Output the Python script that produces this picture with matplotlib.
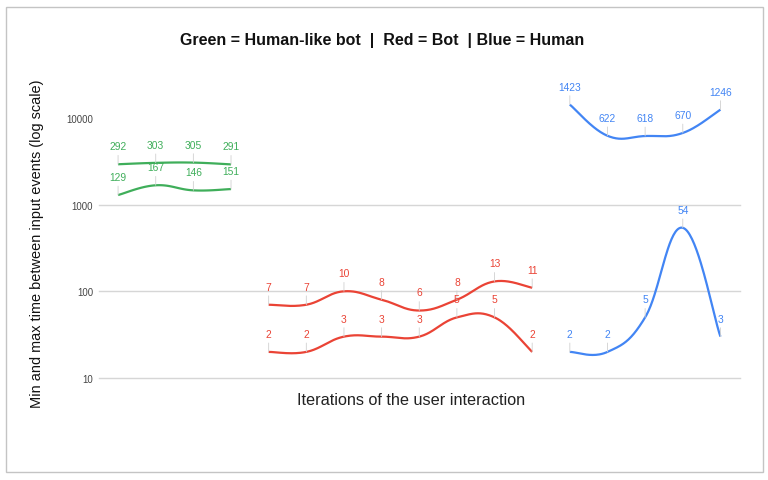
import numpy as np
import matplotlib
matplotlib.use("Agg")
import matplotlib.pyplot as plt
from matplotlib.patches import Rectangle
from matplotlib.ticker import NullLocator, FixedLocator, FixedFormatter

# ---------------- data ----------------
green_x = [0, 1, 2, 3]
green_max = [2920, 3030, 3050, 2910]
green_min = [1290, 1670, 1460, 1510]
green_max_labels = ["292", "303", "305", "291"]
green_min_labels = ["129", "167", "146", "151"]

red_x = [4, 5, 6, 7, 8, 9, 10, 11]
red_max = [70, 70, 100, 80, 60, 80, 130, 110]
red_min = [20, 20, 30, 30, 30, 50, 50, 20]
red_max_labels = ["7", "7", "10", "8", "6", "8", "13", "11"]
red_min_labels = ["2", "2", "3", "3", "3", "5", "5", "2"]

blue_x = [12, 13, 14, 15, 16]
blue_max = [14230, 6220, 6180, 6700, 12460]
blue_min = [20, 20, 50, 540, 30]
blue_max_labels = ["1423", "622", "618", "670", "1246"]
blue_min_labels = ["2", "2", "5", "54", "3"]

y_ticks = [10, 100, 1000, 10000]
y_tick_labels = ["10", "100", "1000", "10000"]
grid_values = [10, 100, 1000]

title = "Green = Human-like bot  |  Red = Bot  | Blue = Human"
xlabel = "Iterations of the user interaction"
ylabel = "Min and max time between input events (log scale)"

GREEN = "#3fae5a"
RED = "#ea4335"
BLUE = "#4285f4"

FONT = "Liberation Sans"

# ---------------- figure ----------------
W, H = 768, 481
fig = plt.figure(figsize=(W / 100, H / 100), dpi=100)
fig.patch.set_facecolor("white")

def fx(px):
    return px / W

def fy(py):
    return 1 - py / H

ax_left, ax_right, ax_top, ax_bottom = 98.5, 740, 85, 379
ax = fig.add_axes([fx(ax_left), fy(ax_bottom), fx(ax_right - ax_left), (ax_bottom - ax_top) / H])
ax.set_yscale("log")
ax.set_xlim(-0.52, 16.52)
ax.set_ylim(10, 10 ** (1 + (ax_bottom - ax_top) / 86.7))
for s in ax.spines.values():
    s.set_visible(False)
ax.set_xticks([])
ax.yaxis.set_major_locator(FixedLocator(y_ticks))
ax.yaxis.set_major_formatter(FixedFormatter(y_tick_labels))
ax.yaxis.set_minor_locator(NullLocator())
ax.tick_params(axis="y", length=0, pad=4, labelsize=6.9, labelcolor="#444444")
for lab in ax.get_yticklabels():
    lab.set_fontfamily(FONT)

for g in grid_values:
    ax.axhline(g, color="#d6d6d6", lw=1.0, zorder=0, clip_on=False)


def smooth(xs, ys, k=0.2, n=40):
    P = np.column_stack([np.asarray(xs, float), np.log10(np.asarray(ys, float))])
    m = len(P)
    pts = []
    t = np.linspace(0, 1, n)[:, None]
    for i in range(m - 1):
        p0, p1 = P[i], P[i + 1]
        prev = P[i - 1] if i > 0 else P[i]
        nxt = P[i + 2] if i + 2 < m else P[i + 1]
        c1 = p0 + k * (p1 - prev)
        c2 = p1 - k * (nxt - p0)
        B = ((1 - t) ** 3) * p0 + 3 * ((1 - t) ** 2) * t * c1 + 3 * (1 - t) * t ** 2 * c2 + t ** 3 * p1
        pts.append(B if i == 0 else B[1:])
    B = np.vstack(pts)
    return B[:, 0], 10 ** B[:, 1]


series = [
    (green_x, green_max, green_max_labels, GREEN),
    (green_x, green_min, green_min_labels, GREEN),
    (red_x, red_max, red_max_labels, RED),
    (red_x, red_min, red_min_labels, RED),
    (blue_x, blue_max, blue_max_labels, BLUE),
    (blue_x, blue_min, blue_min_labels, BLUE),
]

for xs, vals, labs, col in series:
    sx, sy = smooth(xs, vals)
    ax.plot(sx, sy, color=col, lw=1.6, solid_capstyle="butt", zorder=3)
    for x, v, lab in zip(xs, vals, labs):
        ax.annotate(lab, xy=(x, v), xytext=(0, 13), textcoords="offset points",
                    ha="center", va="center", fontsize=7.4, color=col, family=FONT,
                    annotation_clip=False, zorder=4,
                    arrowprops=dict(arrowstyle="-", color="#d0d0d0", lw=0.6,
                                    shrinkA=1, shrinkB=0))

# ---------------- texts ----------------
renderer = fig.canvas.get_renderer()


def fit_text(x, y, s, target_w, size, rotation=0, **kw):
    t = fig.text(fx(x), fy(y), s, ha="center", va="center", fontsize=size,
                 rotation=rotation, family=FONT, **kw)
    bb = t.get_window_extent(renderer=renderer)
    w = bb.height if rotation == 90 else bb.width
    t.set_fontsize(size * target_w / w)
    return t


fit_text(382.5, 40, title, 405, 11, fontweight="bold", color="#111111")
fit_text(411.5, 400.5, xlabel, 227, 11, color="#222222")
fit_text(37.5, 244, ylabel, 328, 9.5, rotation=90, color="#111111")

# outer frame
fig.add_artist(Rectangle((fx(6), fy(473)), fx(757), (473 - 8) / H,
                         transform=fig.transFigure, fill=False,
                         edgecolor="#c4c4c4", lw=1.0))

fig.savefig("out.png", dpi=100, facecolor="white")
